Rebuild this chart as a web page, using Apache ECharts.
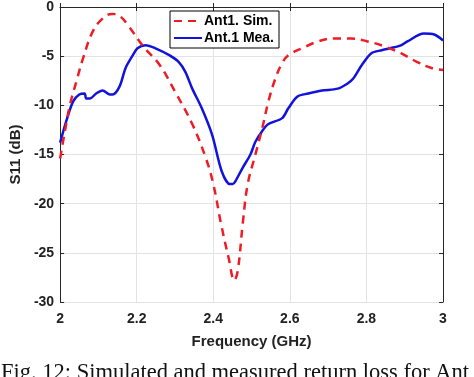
<!DOCTYPE html>
<html>
<head>
<meta charset="utf-8">
<script src="https://cdn.jsdelivr.net/npm/echarts@6/dist/echarts.min.js"></script>
<style>
  html, body { margin: 0; padding: 0; background: #fff; }
  #chart { width: 474px; height: 377px; }
</style>
</head>
<body>
<div id="chart"></div>
<script>
  // simulated S11 (red dashed)
  var simFreq = [2.0, 2.013, 2.026, 2.043, 2.06, 2.085, 2.11, 2.135, 2.155, 2.18, 2.215, 2.26, 2.30, 2.345, 2.38, 2.40, 2.42, 2.44, 2.455, 2.464, 2.477, 2.49, 2.51, 2.528, 2.544, 2.562, 2.58, 2.596, 2.632, 2.674, 2.717, 2.76, 2.803, 2.847, 2.89, 2.933, 2.97, 3.0];
  var simS11 = [-15.4, -12.5, -9.9, -7.5, -5.2, -2.5, -1.2, -0.7, -0.9, -2.0, -3.9, -5.9, -8.6, -11.9, -15.3, -18, -22, -25.5, -27.8, -26.8, -22, -18, -15, -12.3, -9.6, -7.3, -5.7, -4.9, -4.2, -3.5, -3.2, -3.2, -3.5, -4.0, -4.7, -5.6, -6.2, -6.4];
  // measured S11 (blue)
  var meaFreq = [2.0, 2.016, 2.034, 2.05, 2.064, 2.068, 2.078, 2.094, 2.111, 2.13, 2.137, 2.155, 2.171, 2.19, 2.202, 2.223, 2.249, 2.285, 2.31, 2.327, 2.345, 2.37, 2.397, 2.422, 2.443, 2.451, 2.458, 2.476, 2.497, 2.51, 2.528, 2.544, 2.58, 2.596, 2.62, 2.648, 2.684, 2.725, 2.75, 2.765, 2.788, 2.813, 2.84, 2.873, 2.89, 2.907, 2.95, 2.977, 3.0];
  var meaS11 = [-13.8, -11.6, -9.6, -8.9, -8.8, -9.3, -9.3, -8.8, -8.5, -8.9, -8.9, -8.1, -6.2, -4.9, -4.2, -3.9, -4.2, -4.9, -5.6, -6.6, -8.3, -10.3, -13, -16.7, -18, -18.0, -17.7, -16.4, -15, -13.7, -12.6, -11.9, -11.3, -10.3, -9.1, -8.8, -8.5, -8.3, -7.8, -7.3, -5.9, -4.7, -4.4, -4.1, -3.9, -3.5, -2.7, -2.8, -3.4];

  function pairs(xs, ys) {
    var out = [];
    for (var i = 0; i < xs.length; i++) out.push([xs[i], ys[i]]);
    return out;
  }

  var font = 'Liberation Sans, Arial, sans-serif';
  var axisColor = '#262626';

  var chart = echarts.init(document.getElementById('chart'));
  chart.setOption({
    animation: false,
    grid: { left: 57, right: 31, top: 5, bottom: 75 },
    legend: {
      orient: 'vertical',
      left: 170, top: 11,
      padding: [3, 5, 3, 3],
      itemGap: 3,
      itemWidth: 28, itemHeight: 12,
      borderColor: '#000', borderWidth: 1,
      backgroundColor: '#fff',
      itemStyle: { opacity: 0 },
      textStyle: { fontFamily: font, fontWeight: 'bold', fontSize: 14, color: '#000', padding: [0, 0, 0, -3] },
      data: ['Ant1. Sim.', 'Ant.1 Mea.']
    },
    xAxis: [{
      type: 'value', min: 2, max: 3, interval: 0.2,
      name: 'Frequency (GHz)', nameLocation: 'middle', nameGap: 32,
      nameTextStyle: { fontFamily: font, fontWeight: 'bold', fontSize: 15, color: '#222' },
      axisLine: { lineStyle: { color: axisColor, width: 1 } },
      axisTick: { inside: true, length: 4, lineStyle: { color: axisColor } },
      axisLabel: { fontFamily: font, fontWeight: 'bold', fontSize: 14, color: '#222', margin: 10,
        formatter: function (v) { return +v.toFixed(1) + ''; } },
      splitLine: { show: true, lineStyle: { color: '#e3e3e3', width: 1 } }
    }, {
      type: 'value', min: 2, max: 3, interval: 0.2, position: 'top',
      axisLine: { show: true, lineStyle: { color: axisColor, width: 1 } },
      axisTick: { show: true, inside: true, length: 4, lineStyle: { color: axisColor } },
      axisLabel: { show: false }, splitLine: { show: false }
    }],
    yAxis: [{
      type: 'value', min: -30, max: 0, interval: 5,
      name: 'S11 (dB)', nameLocation: 'middle', nameGap: 36,
      nameTextStyle: { fontFamily: font, fontWeight: 'bold', fontSize: 15, color: '#222' },
      axisLine: { show: true, lineStyle: { color: axisColor, width: 1 } },
      axisTick: { show: true, inside: true, length: 4, lineStyle: { color: axisColor } },
      axisLabel: { fontFamily: font, fontWeight: 'bold', fontSize: 14, color: '#222', margin: 6 },
      splitLine: { show: true, lineStyle: { color: '#e3e3e3', width: 1 } }
    }, {
      type: 'value', min: -30, max: 0, interval: 5, position: 'right',
      axisLine: { show: true, lineStyle: { color: axisColor, width: 1 } },
      axisTick: { show: true, inside: true, length: 4, lineStyle: { color: axisColor } },
      axisLabel: { show: false }, splitLine: { show: false }
    }],
    graphic: [{
      type: 'text', left: 1, top: 362,
      style: { text: 'Fig. 12: Simulated and measured return loss for Ant', fontFamily: 'Liberation Serif, Times New Roman, serif', fontSize: 22.5, fill: '#111' }
    }],
    series: [{
      name: 'Ant1. Sim.', type: 'line', smooth: 0.4, symbol: 'none',
      data: pairs(simFreq, simS11),
      itemStyle: { color: '#ee1c25' },
      lineStyle: { color: '#ee1c25', width: 2.5, type: [8, 6] },
      z: 3
    }, {
      name: 'Ant.1 Mea.', type: 'line', smooth: 0.3, symbol: 'none',
      data: pairs(meaFreq, meaS11),
      itemStyle: { color: '#1212dd' },
      lineStyle: { color: '#1212dd', width: 2.5 },
      z: 2
    }]
  });
</script>
</body>
</html>
